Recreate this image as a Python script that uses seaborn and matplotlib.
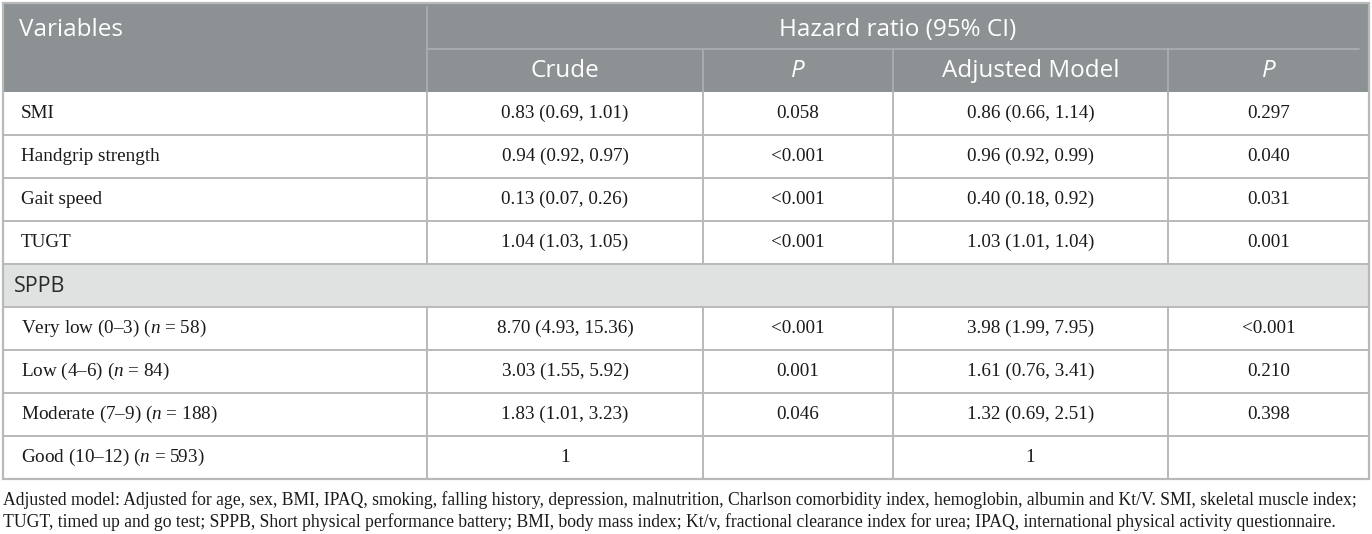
import matplotlib
matplotlib.use("Agg")
import matplotlib.pyplot as plt
import seaborn as sns
from matplotlib.patches import Rectangle

# Datos de la tabla
variables = ["SMI", "Handgrip strength", "Gait speed", "TUGT"]
crude_hr = ["0.83 (0.69, 1.01)", "0.94 (0.92, 0.97)", "0.13 (0.07, 0.26)", "1.04 (1.03, 1.05)"]
crude_p = ["0.058", "<0.001", "<0.001", "<0.001"]
adj_hr = ["0.86 (0.66, 1.14)", "0.96 (0.92, 0.99)", "0.40 (0.18, 0.92)", "1.03 (1.01, 1.04)"]
adj_p = ["0.297", "0.040", "0.031", "0.001"]

grupo = "SPPB"
sppb_levels = ["Very low (0\u20133)", "Low (4\u20136)", "Moderate (7\u20139)", "Good (10\u201312)"]
sppb_n = [58, 84, 188, 593]
sppb_crude_hr = ["8.70 (4.93, 15.36)", "3.03 (1.55, 5.92)", "1.83 (1.01, 3.23)", "1"]
sppb_crude_p = ["<0.001", "0.001", "0.046", ""]
sppb_adj_hr = ["3.98 (1.99, 7.95)", "1.61 (0.76, 3.41)", "1.32 (0.69, 2.51)", "1"]
sppb_adj_p = ["<0.001", "0.210", "0.398", ""]

header_top = "Hazard ratio (95% CI)"
header_cols = ["Crude", "P", "Adjusted Model", "P"]

nota = [
    "Adjusted model: Adjusted for age, sex, BMI, IPAQ, smoking, falling history, depression, malnutrition, "
    "Charlson comorbidity index, hemoglobin, albumin and Kt/V. SMI, skeletal muscle index;",
    "TUGT, timed up and go test; SPPB, Short physical performance battery; BMI, body mass index; "
    "Kt/v, fractional clearance index for urea; IPAQ, international physical activity questionnaire.",
]

# Configuración
sns.set_theme(style="white")
plt.rcParams["mathtext.fontset"] = "custom"
plt.rcParams["mathtext.rm"] = "Liberation Serif"
plt.rcParams["mathtext.it"] = "Liberation Serif:italic"

W, H = 1372, 534
fig = plt.figure(figsize=(W / 100, H / 100), dpi=100)
ax = fig.add_axes([0, 0, 1, 1])
ax.set_xlim(0, W)
ax.set_ylim(H, 0)
ax.axis("off")

cols = [3, 427, 703, 893, 1168, 1369]
centros = [(cols[i] + cols[i + 1]) / 2 for i in range(1, 5)]
y_h1, y_h2, y_body = 3, 49, 92
alto = 43.0

hdr_bg = "#8c9193"
hdr_line = "#abb0b2"
borde = "#b9b9b9"
texto = "#1a1a1a"
serif = "Liberation Serif"
sans = "Open Sans"
fs_body = 13.8
fs_head = 17.5

# Encabezado
ax.add_patch(Rectangle((cols[0], y_h1), cols[-1] - cols[0], y_body - y_h1, color=hdr_bg, lw=0))
ax.plot([cols[1], cols[-1] - 10], [y_h2, y_h2], color=hdr_line, lw=1.2)
ax.plot([cols[1], cols[1]], [y_h1 + 4, y_body], color=hdr_line, lw=1.2)
for c in cols[2:5]:
    ax.plot([c, c], [y_h2, y_body], color=hdr_line, lw=1.2)
ax.text(19, 30, "Variables", fontsize=fs_head, family=sans, color="white", va="center", ha="left")
ax.text((cols[1] + cols[-1]) / 2, 30, header_top, fontsize=fs_head, family=sans, color="white",
        va="center", ha="center")
for x, lab in zip(centros, header_cols):
    ax.text(x, 71, lab, fontsize=fs_head, family=sans, color="white", va="center", ha="center",
            style="italic" if lab == "P" else "normal")

# Filas de datos
filas = list(zip(variables, crude_hr, crude_p, adj_hr, adj_p))
y = y_body
for fila in filas:
    yc = y + alto / 2
    ax.text(21, yc, fila[0], fontsize=fs_body, family=serif, color=texto, va="center", ha="left")
    for x, val in zip(centros, fila[1:]):
        ax.text(x, yc, val, fontsize=fs_body, family=serif, color=texto, va="center", ha="center")
    y += alto
    ax.plot([cols[0], cols[-1]], [y, y], color=borde, lw=1.4)

# Fila de grupo SPPB
ax.add_patch(Rectangle((cols[0], y), cols[-1] - cols[0], alto, color="#e0e2e2", lw=0))
ax.text(14, y + alto / 2 + 1, grupo, fontsize=15.5, family=sans, color="#2b2b2b", va="center", ha="left")
y_grupo = y
y += alto
ax.plot([cols[0], cols[-1]], [y, y], color=borde, lw=1.4)

filas2 = list(zip(sppb_levels, sppb_n, sppb_crude_hr, sppb_crude_p, sppb_adj_hr, sppb_adj_p))
y_start2 = y
for nivel, n, *vals in filas2:
    yc = y + alto / 2
    ax.text(21, yc, f"{nivel} ($n$ = {n})", fontsize=fs_body, family=serif, color=texto,
            va="center", ha="left")
    for x, val in zip(centros, vals):
        ax.text(x, yc, val, fontsize=fs_body, family=serif, color=texto, va="center", ha="center")
    y += alto
    if nivel != sppb_levels[-1]:
        ax.plot([cols[0], cols[-1]], [y, y], color=borde, lw=1.4)
y_end = y

# Líneas verticales del cuerpo
for c in cols[1:5]:
    ax.plot([c, c], [y_body, y_grupo], color=borde, lw=1.4)
    ax.plot([c, c], [y_start2, y_end], color=borde, lw=1.4)

# Borde exterior
ax.add_patch(Rectangle((cols[0], y_h1), cols[-1] - cols[0], y_end - y_h1, fill=False,
                       edgecolor=borde, lw=1.6))

# Nota al pie
for i, linea in enumerate(nota):
    ax.text(3, 500 + 22 * i, linea, fontsize=12.7, family=serif, color=texto, va="center", ha="left")

plt.savefig("out.png", dpi=100)
plt.close()
